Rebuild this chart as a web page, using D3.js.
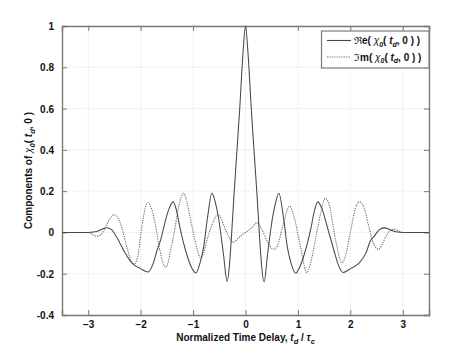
<!DOCTYPE html>
<html><head><meta charset="utf-8">
<script src="https://cdn.jsdelivr.net/npm/d3@7"></script>
<style>
body{margin:0;background:#fff;}
text{font-family:"Liberation Sans",Arial,sans-serif;font-weight:bold;fill:#111;}
</style></head>
<body><svg id="c" width="474" height="355"></svg>
<script>
// ---- data ----
const xTicks = [-3,-2,-1,0,1,2,3];
const yTicks = [-0.4,-0.2,0,0.2,0.4,0.6,0.8,1];
const yTickLabels = ["-0.4","-0.2","0","0.2","0.4","0.6","0.8","1"];

const tRe = [-3.5,-3.0,-2.9,-2.8,-2.72,-2.645,-2.55,-2.45,-2.3,-2.17,-2.09,-2.01,-1.86,-1.76,-1.69,-1.6,-1.53,-1.45,-1.38,-1.31,-1.25,-1.12,-1.03,-0.945,-0.87,-0.8,-0.725,-0.64,-0.57,-0.515,-0.42,-0.35,-0.31,-0.27,-0.225,-0.17,-0.11,-0.05,0,
  0.05,0.11,0.17,0.225,0.27,0.31,0.355,0.42,0.515,0.57,0.637,0.725,0.8,0.87,0.955,1.03,1.12,1.25,1.31,1.38,1.45,1.53,1.6,1.69,1.76,1.86,2.01,2.09,2.17,2.3,2.38,2.45,2.55,2.645,2.72,2.8,2.9,3.0,3.5];
const re  = [0,0,0.002,0.008,0.018,0.023,0.012,-0.026,-0.098,-0.147,-0.163,-0.174,-0.192,-0.15,-0.09,-0.02,0.055,0.12,0.148,0.1,0.023,-0.107,-0.17,-0.196,-0.15,-0.074,0.071,0.19,0.14,0.071,-0.107,-0.238,-0.17,-0.03,0.16,0.37,0.6,0.86,1,
  0.86,0.6,0.37,0.16,-0.03,-0.17,-0.24,-0.107,0.071,0.14,0.19,0.071,-0.074,-0.15,-0.197,-0.17,-0.107,0.023,0.1,0.148,0.12,0.055,-0.01,-0.09,-0.15,-0.194,-0.174,-0.163,-0.147,-0.098,-0.042,-0.02,0.012,0.022,0.018,0.008,0.002,0,0];

const tIm = [-3.5,-3.0,-2.93,-2.85,-2.76,-2.68,-2.6,-2.5,-2.42,-2.36,-2.26,-2.17,-2.12,-2.06,-1.97,-1.91,-1.86,-1.8,-1.72,-1.63,-1.53,-1.47,-1.44,-1.36,-1.27,-1.18,-1.12,-1.055,-0.93,-0.86,-0.8,-0.74,-0.61,-0.53,-0.46,-0.42,-0.325,-0.24,-0.13,-0.04,0,
  0.04,0.13,0.22,0.3,0.42,0.535,0.6,0.72,0.84,0.92,1.05,1.17,1.24,1.36,1.44,1.52,1.59,1.72,1.84,1.9,2.0,2.1,2.18,2.26,2.36,2.45,2.54,2.62,2.7,2.76,2.83,2.92,3.0,3.5];
const im  = [0,0,-0.008,-0.018,-0.012,0.02,0.06,0.086,0.065,0.023,-0.074,-0.142,-0.153,-0.12,0.039,0.12,0.145,0.12,0.039,-0.09,-0.168,-0.14,-0.1,0.0,0.13,0.19,0.15,0.071,-0.074,-0.123,-0.1,-0.042,0.055,0.087,0.065,0.039,-0.018,-0.048,-0.026,-0.006,0,
  0.006,0.026,0.047,0.02,-0.045,-0.082,-0.07,0.04,0.127,0.08,-0.07,-0.195,-0.15,0.0,0.1,0.165,0.14,-0.04,-0.147,-0.12,0.0,0.12,0.149,0.12,0.02,-0.06,-0.082,-0.05,-0.01,0.01,0.015,0.008,0,0];

// ---- layout ----
const svg = d3.select("#c");
const L=62, T=26, R=429, B=315;
const x = d3.scaleLinear().domain([-3.5,3.5]).range([L,R]);
const y = d3.scaleLinear().domain([-0.4,1]).range([B,T]);

// grid
const g = svg.append("g");
g.selectAll(".gx").data(xTicks).enter().append("line")
  .attr("x1",d=>x(d)).attr("x2",d=>x(d)).attr("y1",T).attr("y2",B)
  .attr("stroke","#dcdcdc").attr("stroke-width",0.8).attr("stroke-dasharray","1,1");
g.selectAll(".gy").data(yTicks).enter().append("line")
  .attr("y1",d=>y(d)).attr("y2",d=>y(d)).attr("x1",L).attr("x2",R)
  .attr("stroke","#dcdcdc").attr("stroke-width",0.8).attr("stroke-dasharray","1,1");

// axes (ticks inward)
const ax = svg.append("g").attr("transform",`translate(0,${B})`)
  .call(d3.axisBottom(x).tickValues(xTicks).tickSize(-5).tickPadding(6).tickFormat(d3.format("d")));
const axT = svg.append("g").attr("transform",`translate(0,${T})`)
  .call(d3.axisTop(x).tickValues(xTicks).tickSize(-5).tickFormat(""));
const ay = svg.append("g").attr("transform",`translate(${L},0)`)
  .call(d3.axisLeft(y).tickValues(yTicks).tickSize(-5).tickPadding(8).tickFormat((d,i)=>yTickLabels[i]));
const ayR = svg.append("g").attr("transform",`translate(${R},0)`)
  .call(d3.axisRight(y).tickValues(yTicks).tickSize(-5).tickFormat(""));
[ax,axT,ay,ayR].forEach(a=>{
  a.selectAll("path.domain").attr("stroke","#7a7a7a").attr("stroke-width",1.4);
  a.selectAll(".tick line").attr("stroke","#7a7a7a").attr("stroke-width",1);
  a.selectAll("text").attr("font-size",10).attr("font-family","Liberation Sans, Arial, sans-serif").attr("font-weight","bold").attr("fill","#111");
});
ax.selectAll("text").attr("dy","0.71em");
ay.selectAll("text").attr("dy","0.35em");

// curves
const line = d3.line().x(d=>x(d[0])).y(d=>y(d[1])).curve(d3.curveMonotoneX);
svg.append("path").datum(tIm.map((t,i)=>[t,im[i]]))
  .attr("d",line).attr("fill","none").attr("stroke","#6a6a6a").attr("stroke-width",1.1).attr("stroke-dasharray","1.2,1.2");
svg.append("path").datum(tRe.map((t,i)=>[t,re[i]]))
  .attr("d",line).attr("fill","none").attr("stroke","#484848").attr("stroke-width",1.05);

// x label
const xl = svg.append("text").attr("x",(L+R)/2).attr("y",341).attr("text-anchor","middle").attr("font-size",10);
xl.append("tspan").text("Normalized Time Delay, ");
xl.append("tspan").attr("font-style","italic").text("t");
xl.append("tspan").attr("font-style","italic").attr("font-size",7.5).attr("dy",3).text("d");
xl.append("tspan").attr("dy",-3).text(" / ");
xl.append("tspan").attr("font-style","italic").text("τ");
xl.append("tspan").attr("font-style","italic").attr("font-size",7.5).attr("dy",3).text("c");

// y label
const yl = svg.append("text").attr("transform",`translate(32,${(T+B)/2}) rotate(-90)`).attr("text-anchor","middle").attr("font-size",10);
yl.append("tspan").text("Components of ");
yl.append("tspan").attr("font-style","italic").attr("font-weight","normal").text("χ");
yl.append("tspan").attr("font-style","italic").attr("font-size",7.5).attr("dy",3).text("0");
yl.append("tspan").attr("dy",-3).text("( ");
yl.append("tspan").attr("font-style","italic").text("t");
yl.append("tspan").attr("font-style","italic").attr("font-size",7.5).attr("dy",3).text("d");
yl.append("tspan").attr("dy",-3).text(", 0 )");

// legend
const legItems = [{p:"ℜe", dash:null, col:"#484848"},{p:"ℑm", dash:"1.2,1.2", col:"#6a6a6a"}];
const lg = svg.append("g");
lg.append("rect").attr("x",321.5).attr("y",31).attr("width",107.5).attr("height",37)
  .attr("fill","#fff").attr("stroke","#7a7a7a").attr("stroke-width",1.2);
legItems.forEach((it,i)=>{
  const yy = 40.5 + i*16.5;
  lg.append("line").attr("x1",327).attr("x2",351).attr("y1",yy).attr("y2",yy)
    .attr("stroke",it.col).attr("stroke-width",1.1).attr("stroke-dasharray",it.dash);
  const t = lg.append("text").attr("x",354).attr("y",yy+3.5).attr("font-size",10);
  t.append("tspan").attr("font-family","DejaVu Serif, serif").attr("font-weight","normal").text(it.p.slice(0,1));
  t.append("tspan").text(it.p.slice(1)+"( ");
  t.append("tspan").attr("font-style","italic").attr("font-weight","normal").text("χ");
  t.append("tspan").attr("font-style","italic").attr("font-size",7).attr("dy",2.5).text("0");
  t.append("tspan").attr("dy",-2.5).text("( ");
  t.append("tspan").attr("font-style","italic").text("t");
  t.append("tspan").attr("font-style","italic").attr("font-size",7).attr("dy",2.5).text("d");
  t.append("tspan").attr("dy",-2.5).text(", 0 ) )");
});
</script></body></html>
